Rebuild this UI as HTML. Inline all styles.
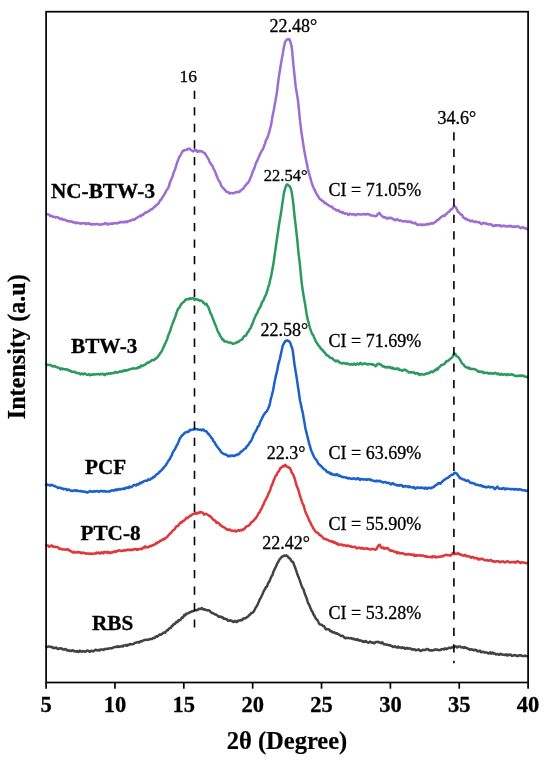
<!DOCTYPE html>
<html><head><meta charset="utf-8"><style>
html,body{margin:0;padding:0;background:#fff;}
body{width:550px;height:760px;overflow:hidden;}
svg{display:block;}
text{font-family:'Liberation Serif', 'Times New Roman', serif;fill:#000;stroke:#000;stroke-width:0.3px;}
.b{stroke-width:0.2px;}
.b{font-weight:bold;stroke-width:0.2px;}
</style></head><body>
<svg width="550" height="760" viewBox="0 0 550 760">
<rect width="550" height="760" fill="#fff"/>
<g fill="none" stroke-width="2.5" stroke-linejoin="round" stroke-linecap="round">
<path d="M46.2,214.0 46.8,214.3 47.4,214.3 48.0,214.3 48.6,214.6 49.2,214.8 49.8,215.5 50.4,216.1 51.0,215.8 51.6,215.9 52.2,216.5 52.8,216.8 53.4,216.8 54.0,216.7 54.6,217.2 55.2,217.5 55.8,217.1 56.4,217.2 57.0,217.1 57.6,217.3 58.2,217.5 58.8,218.1 59.4,218.3 60.0,218.9 60.6,219.2 61.2,218.9 61.8,218.5 62.4,219.1 63.0,219.7 63.6,219.8 64.2,219.5 64.8,219.8 65.4,219.9 66.0,220.3 66.6,220.9 67.2,220.7 67.8,221.0 68.4,221.4 69.0,221.1 69.6,221.3 70.2,221.6 70.8,221.5 71.4,221.3 72.0,221.9 72.6,222.3 73.2,221.8 73.8,222.4 74.4,222.4 75.0,222.5 75.6,223.3 76.2,223.0 76.8,222.4 77.4,222.7 78.0,223.1 78.6,223.0 79.2,223.2 79.8,223.2 80.4,223.6 81.0,223.7 81.6,223.2 82.2,223.3 82.8,223.3 83.4,223.3 84.0,223.0 84.6,223.2 85.2,223.6 85.8,224.1 86.4,224.1 87.0,223.3 87.6,223.4 88.2,223.7 88.8,223.2 89.4,223.5 90.0,224.0 90.6,224.5 91.2,224.4 91.8,224.0 92.4,223.9 93.0,224.2 93.6,224.6 94.2,224.2 94.8,224.1 95.4,224.3 96.0,224.2 96.6,224.1 97.2,223.9 97.8,224.1 98.4,224.3 99.0,224.7 99.6,224.7 100.2,224.4 100.8,224.5 101.4,224.3 102.0,224.6 102.6,224.4 103.2,224.2 103.8,223.8 104.4,223.9 105.0,223.3 105.6,223.1 106.2,223.5 106.8,223.6 107.4,224.2 108.0,224.6 108.6,223.8 109.2,223.5 109.8,223.8 110.4,223.9 111.0,223.7 111.6,223.6 112.2,223.9 112.8,223.7 113.4,223.2 114.0,223.3 114.6,223.3 115.2,223.0 115.8,223.1 116.4,223.0 117.0,223.4 117.6,223.3 118.2,223.0 118.8,222.7 119.4,222.5 120.0,221.9 120.6,222.1 121.2,222.3 121.8,221.9 122.4,222.3 123.0,221.9 123.6,222.2 124.2,222.0 124.8,222.2 125.4,221.9 126.0,221.4 126.6,222.1 127.2,222.2 127.8,221.5 128.4,221.1 129.0,220.9 129.6,220.7 130.2,221.0 130.8,220.6 131.4,220.3 132.0,219.9 132.6,219.6 133.2,219.4 133.8,219.8 134.4,219.5 135.0,219.3 135.6,218.7 136.2,218.1 136.8,217.8 137.4,217.5 138.0,217.3 138.6,216.9 139.2,216.4 139.8,215.8 140.4,215.8 141.0,216.2 141.6,215.2 142.2,214.6 142.8,214.9 143.4,214.7 144.0,213.6 144.6,213.3 145.2,212.8 145.8,212.3 146.4,212.6 147.0,212.3 147.6,211.8 148.2,211.3 148.8,211.2 149.4,210.7 150.0,210.2 150.6,209.5 151.2,209.2 151.8,209.4 152.4,208.7 153.0,208.3 153.6,207.7 154.2,207.0 154.8,206.6 155.4,206.3 156.0,205.6 156.6,204.9 157.2,204.5 157.8,204.2 158.4,203.5 159.0,202.5 159.6,201.2 160.2,200.2 160.8,200.1 161.4,199.2 162.0,197.9 162.6,197.1 163.2,196.3 163.8,195.4 164.4,194.3 165.0,193.1 165.6,192.3 166.2,190.7 166.8,190.0 167.4,189.1 168.0,188.1 168.6,187.1 169.2,185.4 169.8,182.9 170.4,181.1 171.0,180.2 171.6,178.5 172.2,177.2 172.8,175.8 173.4,173.4 174.0,171.6 174.6,170.6 175.2,168.9 175.8,166.9 176.4,165.0 177.0,163.0 177.6,161.2 178.2,160.0 178.8,158.2 179.4,156.7 180.0,156.1 180.6,155.1 181.2,154.0 181.8,152.7 182.4,151.7 183.0,150.9 183.6,150.5 184.2,150.4 184.8,150.0 185.4,150.0 186.0,150.1 186.6,150.0 187.2,149.1 187.8,149.2 188.4,149.1 189.0,148.8 189.6,148.6 190.2,149.2 190.8,150.0 191.4,150.3 192.0,150.6 192.6,150.9 193.2,151.4 193.8,151.0 194.4,150.4 195.0,150.6 195.6,150.2 196.2,150.0 196.8,151.1 197.4,151.9 198.0,151.5 198.6,150.8 199.2,150.9 199.8,151.5 200.4,151.3 201.0,151.1 201.6,151.2 202.2,151.5 202.8,152.1 203.4,152.6 204.0,152.8 204.6,153.0 205.2,154.0 205.8,154.8 206.4,156.0 207.0,156.5 207.6,157.6 208.2,158.6 208.8,159.6 209.4,161.5 210.0,162.6 210.6,163.2 211.2,164.4 211.8,165.2 212.4,165.6 213.0,167.4 213.6,168.8 214.2,169.9 214.8,170.9 215.4,172.4 216.0,174.1 216.6,175.9 217.2,177.1 217.8,178.4 218.4,180.0 219.0,180.7 219.6,181.6 220.2,182.7 220.8,184.8 221.4,186.0 222.0,186.8 222.6,187.5 223.2,188.1 223.8,188.8 224.4,189.3 225.0,189.9 225.6,190.7 226.2,191.7 226.8,192.0 227.4,192.0 228.0,192.0 228.6,192.4 229.2,193.3 229.8,193.4 230.4,193.2 231.0,193.0 231.6,192.9 232.2,193.2 232.8,193.5 233.4,193.1 234.0,192.9 234.6,192.8 235.2,192.6 235.8,192.1 236.4,192.1 237.0,192.1 237.6,192.3 238.2,191.8 238.8,192.0 239.4,192.0 240.0,191.1 240.6,190.5 241.2,190.3 241.8,189.7 242.4,188.9 243.0,188.8 243.6,188.5 244.2,187.2 244.8,186.2 245.4,185.5 246.0,185.1 246.6,184.0 247.2,183.4 247.8,183.2 248.4,182.0 249.0,181.2 249.6,180.1 250.2,178.2 250.8,176.9 251.4,175.8 252.0,173.8 252.6,172.0 253.2,170.4 253.8,169.3 254.4,168.2 255.0,166.2 255.6,164.0 256.2,162.5 256.8,161.4 257.4,160.3 258.0,158.9 258.6,157.6 259.2,156.2 259.8,154.6 260.4,153.4 261.0,152.3 261.6,151.0 262.2,150.2 262.8,149.4 263.4,148.0 264.0,146.3 264.6,144.5 265.2,143.2 265.8,140.7 266.4,139.1 267.0,138.6 267.6,137.4 268.2,135.6 268.8,133.4 269.4,131.4 270.0,129.0 270.6,126.9 271.2,124.4 271.8,120.6 272.4,116.9 273.0,113.8 273.6,111.1 274.2,107.9 274.8,104.4 275.4,101.2 276.0,97.4 276.6,94.2 277.2,90.2 277.8,85.2 278.4,80.0 279.0,76.1 279.6,72.2 280.2,68.5 280.8,64.9 281.4,61.2 282.0,57.9 282.6,55.0 283.2,51.1 283.8,47.7 284.4,45.0 285.0,42.4 285.6,41.0 286.2,40.3 286.8,39.7 287.4,39.3 288.0,39.5 288.6,39.3 289.2,39.2 289.8,40.2 290.4,42.0 291.0,44.1 291.6,46.6 292.2,51.5 292.8,58.1 293.4,64.8 294.0,70.4 294.6,76.1 295.2,81.9 295.8,87.4 296.4,90.9 297.0,94.4 297.6,97.8 298.2,102.3 298.8,108.0 299.4,114.7 300.0,120.7 300.6,125.3 301.2,130.5 301.8,134.8 302.4,138.4 303.0,142.5 303.6,146.4 304.2,150.1 304.8,153.4 305.4,156.5 306.0,159.7 306.6,162.5 307.2,165.3 307.8,168.5 308.4,171.2 309.0,173.0 309.6,175.4 310.2,177.3 310.8,179.3 311.4,181.8 312.0,183.6 312.6,185.6 313.2,186.7 313.8,188.2 314.4,189.4 315.0,190.6 315.6,192.1 316.2,193.2 316.8,194.4 317.4,195.2 318.0,195.9 318.6,197.1 319.2,198.2 319.8,199.1 320.4,199.3 321.0,199.8 321.6,200.1 322.2,201.1 322.8,201.1 323.4,201.3 324.0,202.5 324.6,203.2 325.2,202.8 325.8,203.1 326.4,203.7 327.0,204.1 327.6,204.8 328.2,204.9 328.8,205.3 329.4,206.0 330.0,206.1 330.6,206.6 331.2,206.5 331.8,206.5 332.4,207.1 333.0,208.4 333.6,208.5 334.2,208.8 334.8,209.1 335.4,209.5 336.0,210.0 336.6,210.6 337.2,210.1 337.8,209.9 338.4,210.3 339.0,210.8 339.6,211.8 340.2,212.1 340.8,211.7 341.4,211.7 342.0,212.5 342.6,213.0 343.2,212.3 343.8,213.0 344.4,213.3 345.0,213.8 345.6,213.5 346.2,213.6 346.8,213.5 347.4,213.9 348.0,214.9 348.6,214.9 349.2,214.3 349.8,213.9 350.4,213.7 351.0,214.1 351.6,214.4 352.2,214.5 352.8,214.3 353.4,214.1 354.0,214.3 354.6,214.6 355.2,215.2 355.8,215.3 356.4,214.6 357.0,214.2 357.6,214.3 358.2,214.2 358.8,214.2 359.4,214.3 360.0,214.2 360.6,214.6 361.2,214.6 361.8,214.6 362.4,214.4 363.0,214.1 363.6,214.0 364.2,214.2 364.8,214.3 365.4,214.5 366.0,214.4 366.6,214.0 367.2,214.2 367.8,214.1 368.4,214.3 369.0,214.4 369.6,214.3 370.2,215.0 370.8,215.4 371.4,215.5 372.0,215.6 372.6,215.6 373.2,215.7 373.8,215.9 374.4,216.1 375.0,216.2 375.6,216.0 376.2,216.1 376.8,215.5 377.4,214.6 378.0,213.9 378.6,213.4 379.2,212.8 379.8,213.6 380.4,214.4 381.0,215.1 381.6,215.8 382.2,216.2 382.8,216.6 383.4,217.2 384.0,217.4 384.6,217.3 385.2,217.1 385.8,217.8 386.4,218.4 387.0,218.5 387.6,218.1 388.2,217.7 388.8,218.4 389.4,218.1 390.0,217.6 390.6,218.2 391.2,218.0 391.8,218.0 392.4,218.6 393.0,219.3 393.6,219.2 394.2,219.5 394.8,220.2 395.4,220.2 396.0,219.7 396.6,219.5 397.2,219.3 397.8,219.6 398.4,220.2 399.0,220.4 399.6,220.5 400.2,220.7 400.8,220.4 401.4,220.6 402.0,221.1 402.6,221.3 403.2,221.5 403.8,221.4 404.4,221.2 405.0,221.3 405.6,221.0 406.2,221.0 406.8,221.7 407.4,221.9 408.0,221.8 408.6,221.4 409.2,221.8 409.8,221.9 410.4,221.8 411.0,221.6 411.6,222.4 412.2,223.1 412.8,223.1 413.4,222.9 414.0,223.2 414.6,223.3 415.2,222.6 415.8,223.4 416.4,224.1 417.0,224.5 417.6,224.9 418.2,224.9 418.8,224.6 419.4,224.7 420.0,224.7 420.6,224.4 421.2,224.5 421.8,225.1 422.4,225.3 423.0,224.6 423.6,224.4 424.2,224.7 424.8,224.9 425.4,224.7 426.0,224.7 426.6,224.1 427.2,224.0 427.8,224.2 428.4,224.5 429.0,224.4 429.6,223.5 430.2,223.5 430.8,223.8 431.4,223.4 432.0,223.1 432.6,223.6 433.2,223.5 433.8,222.9 434.4,222.4 435.0,222.3 435.6,221.8 436.2,221.5 436.8,220.5 437.4,220.0 438.0,219.8 438.6,219.3 439.2,219.1 439.8,218.4 440.4,217.5 441.0,217.2 441.6,216.8 442.2,216.6 442.8,215.8 443.4,215.5 444.0,215.8 444.6,215.9 445.2,215.3 445.8,214.2 446.4,213.8 447.0,213.7 447.6,212.7 448.2,211.9 448.8,211.8 449.4,211.5 450.0,210.5 450.6,209.6 451.2,209.3 451.8,209.4 452.4,208.4 453.0,207.6 453.6,207.0 454.2,206.6 454.8,206.5 455.4,207.1 456.0,207.7 456.6,208.7 457.2,210.0 457.8,211.5 458.4,212.1 459.0,212.4 459.6,213.1 460.2,213.9 460.8,214.5 461.4,214.4 462.0,214.9 462.6,216.1 463.2,217.5 463.8,217.7 464.4,217.7 465.0,218.4 465.6,219.1 466.2,218.7 466.8,218.9 467.4,219.7 468.0,219.9 468.6,220.0 469.2,220.1 469.8,221.1 470.4,221.3 471.0,221.1 471.6,220.9 472.2,220.5 472.8,221.2 473.4,221.5 474.0,221.8 474.6,222.0 475.2,221.7 475.8,221.5 476.4,222.0 477.0,222.1 477.6,222.2 478.2,222.3 478.8,222.3 479.4,222.2 480.0,223.2 480.6,223.5 481.2,223.9 481.8,224.2 482.4,223.5 483.0,222.8 483.6,222.9 484.2,223.1 484.8,223.5 485.4,223.6 486.0,223.3 486.6,223.8 487.2,223.7 487.8,224.2 488.4,224.3 489.0,224.3 489.6,224.4 490.2,224.4 490.8,224.3 491.4,224.2 492.0,224.9 492.6,225.9 493.2,226.2 493.8,225.9 494.4,225.5 495.0,225.2 495.6,225.7 496.2,225.5 496.8,225.3 497.4,225.3 498.0,225.4 498.6,225.4 499.2,225.3 499.8,225.2 500.4,225.7 501.0,226.5 501.6,225.9 502.2,225.7 502.8,226.1 503.4,226.0 504.0,225.5 504.6,225.8 505.2,226.3 505.8,226.2 506.4,226.3 507.0,226.6 507.6,226.1 508.2,226.0 508.8,226.2 509.4,226.5 510.0,225.7 510.6,225.8 511.2,226.2 511.8,226.6 512.4,226.9 513.0,226.9 513.6,226.3 514.2,226.7 514.8,226.6 515.4,226.6 516.0,226.9 516.6,226.4 517.2,226.1 517.8,226.5 518.4,226.5 519.0,226.9 519.6,227.5 520.2,227.8 520.8,228.2 521.4,227.6 522.0,227.1 522.6,227.4 523.2,227.5 523.8,227.7 524.4,228.2 525.0,228.0 525.6,227.9 526.2,228.8 526.8,229.0 527.4,229.2 527.5,229.2" stroke="#9d6dd2"/>
<path d="M46.2,364.2 46.8,364.4 47.4,364.9 48.0,365.0 48.6,365.0 49.2,365.0 49.8,364.7 50.4,365.1 51.0,365.5 51.6,365.7 52.2,365.7 52.8,366.6 53.4,366.4 54.0,365.9 54.6,365.9 55.2,366.6 55.8,366.9 56.4,367.0 57.0,367.3 57.6,367.4 58.2,367.8 58.8,367.8 59.4,368.1 60.0,369.0 60.6,369.4 61.2,368.5 61.8,368.4 62.4,368.7 63.0,369.2 63.6,368.9 64.2,369.1 64.8,369.4 65.4,369.3 66.0,369.4 66.6,369.6 67.2,369.3 67.8,369.6 68.4,370.3 69.0,370.8 69.6,370.7 70.2,370.4 70.8,371.0 71.4,371.8 72.0,371.9 72.6,371.7 73.2,371.7 73.8,372.1 74.4,371.9 75.0,371.8 75.6,372.2 76.2,373.1 76.8,373.1 77.4,373.2 78.0,373.0 78.6,373.3 79.2,373.1 79.8,373.5 80.4,374.4 81.0,374.1 81.6,373.6 82.2,373.7 82.8,374.1 83.4,374.4 84.0,373.8 84.6,373.4 85.2,373.9 85.8,374.2 86.4,374.5 87.0,374.8 87.6,374.7 88.2,374.5 88.8,374.1 89.4,374.7 90.0,375.3 90.6,374.9 91.2,374.5 91.8,374.6 92.4,374.9 93.0,374.2 93.6,374.2 94.2,374.5 94.8,374.6 95.4,374.3 96.0,374.3 96.6,374.3 97.2,374.3 97.8,374.1 98.4,373.9 99.0,374.3 99.6,374.5 100.2,374.0 100.8,374.1 101.4,374.3 102.0,373.9 102.6,373.9 103.2,373.8 103.8,374.6 104.4,375.2 105.0,374.9 105.6,374.1 106.2,374.0 106.8,373.8 107.4,373.9 108.0,374.0 108.6,373.3 109.2,373.6 109.8,373.6 110.4,373.8 111.0,373.4 111.6,373.0 112.2,373.2 112.8,373.3 113.4,373.0 114.0,372.9 114.6,372.3 115.2,371.9 115.8,372.6 116.4,372.7 117.0,372.4 117.6,372.3 118.2,372.4 118.8,371.8 119.4,371.5 120.0,371.7 120.6,371.8 121.2,371.2 121.8,371.5 122.4,371.0 123.0,370.7 123.6,371.2 124.2,370.7 124.8,370.1 125.4,370.3 126.0,370.8 126.6,370.7 127.2,370.1 127.8,370.1 128.4,370.0 129.0,369.5 129.6,369.5 130.2,369.2 130.8,368.9 131.4,368.7 132.0,368.8 132.6,368.6 133.2,368.3 133.8,368.3 134.4,368.6 135.0,368.4 135.6,368.4 136.2,368.4 136.8,368.2 137.4,368.2 138.0,367.3 138.6,367.2 139.2,367.1 139.8,367.5 140.4,367.1 141.0,365.6 141.6,365.5 142.2,365.9 142.8,365.9 143.4,365.5 144.0,365.0 144.6,364.8 145.2,364.6 145.8,364.1 146.4,363.7 147.0,362.7 147.6,362.9 148.2,362.5 148.8,362.6 149.4,362.0 150.0,361.5 150.6,361.4 151.2,360.8 151.8,360.3 152.4,359.9 153.0,360.1 153.6,360.2 154.2,359.9 154.8,359.3 155.4,359.1 156.0,358.4 156.6,357.8 157.2,357.5 157.8,356.9 158.4,355.8 159.0,354.9 159.6,354.2 160.2,353.3 160.8,352.4 161.4,351.8 162.0,350.6 162.6,349.3 163.2,347.8 163.8,346.7 164.4,345.3 165.0,343.8 165.6,342.9 166.2,341.3 166.8,340.1 167.4,338.3 168.0,336.1 168.6,334.6 169.2,333.3 169.8,331.7 170.4,330.0 171.0,328.1 171.6,326.1 172.2,324.6 172.8,322.8 173.4,321.7 174.0,320.0 174.6,318.3 175.2,316.9 175.8,315.3 176.4,313.1 177.0,311.4 177.6,310.0 178.2,308.6 178.8,308.1 179.4,307.7 180.0,306.2 180.6,305.3 181.2,304.1 181.8,303.6 182.4,302.9 183.0,302.3 183.6,302.0 184.2,301.7 184.8,300.7 185.4,299.8 186.0,299.3 186.6,299.4 187.2,299.3 187.8,299.3 188.4,299.3 189.0,299.2 189.6,298.2 190.2,298.5 190.8,298.9 191.4,298.5 192.0,298.2 192.6,298.3 193.2,298.2 193.8,299.0 194.4,299.9 195.0,299.6 195.6,298.9 196.2,298.9 196.8,299.4 197.4,299.9 198.0,299.6 198.6,299.8 199.2,300.5 199.8,300.8 200.4,300.5 201.0,300.5 201.6,300.8 202.2,301.3 202.8,301.7 203.4,302.8 204.0,303.0 204.6,303.6 205.2,304.4 205.8,304.2 206.4,303.9 207.0,305.0 207.6,306.2 208.2,307.0 208.8,308.2 209.4,310.0 210.0,311.6 210.6,313.7 211.2,314.2 211.8,315.7 212.4,317.5 213.0,319.0 213.6,320.5 214.2,322.0 214.8,323.5 215.4,325.2 216.0,326.2 216.6,328.1 217.2,329.6 217.8,331.2 218.4,332.5 219.0,333.3 219.6,334.5 220.2,336.0 220.8,336.8 221.4,337.5 222.0,339.1 222.6,339.8 223.2,339.3 223.8,340.3 224.4,341.5 225.0,341.5 225.6,341.4 226.2,341.4 226.8,341.6 227.4,341.9 228.0,342.2 228.6,342.6 229.2,342.6 229.8,342.5 230.4,342.5 231.0,342.9 231.6,342.9 232.2,343.3 232.8,343.8 233.4,343.7 234.0,343.6 234.6,343.4 235.2,343.1 235.8,342.7 236.4,342.5 237.0,342.4 237.6,341.9 238.2,342.1 238.8,341.5 239.4,340.8 240.0,340.5 240.6,340.1 241.2,339.9 241.8,339.4 242.4,339.2 243.0,338.0 243.6,336.8 244.2,336.4 244.8,335.8 245.4,335.7 246.0,335.5 246.6,334.3 247.2,332.7 247.8,331.9 248.4,331.7 249.0,330.5 249.6,329.2 250.2,328.6 250.8,327.9 251.4,326.3 252.0,324.5 252.6,323.2 253.2,321.9 253.8,320.0 254.4,318.5 255.0,317.3 255.6,315.8 256.2,314.7 256.8,313.8 257.4,313.0 258.0,311.0 258.6,309.7 259.2,308.7 259.8,307.8 260.4,306.8 261.0,305.1 261.6,303.5 262.2,302.0 262.8,301.1 263.4,300.4 264.0,299.0 264.6,297.3 265.2,296.1 265.8,295.0 266.4,293.5 267.0,291.6 267.6,289.6 268.2,287.2 268.8,285.5 269.4,283.8 270.0,280.6 270.6,278.3 271.2,275.9 271.8,272.6 272.4,269.3 273.0,266.1 273.6,262.5 274.2,258.4 274.8,253.8 275.4,250.0 276.0,245.7 276.6,241.4 277.2,237.3 277.8,233.2 278.4,229.0 279.0,224.7 279.6,221.3 280.2,217.8 280.8,214.2 281.4,210.4 282.0,206.1 282.6,201.9 283.2,197.8 283.8,193.6 284.4,191.1 285.0,189.1 285.6,187.2 286.2,185.4 286.8,184.5 287.4,184.5 288.0,185.0 288.6,185.5 289.2,185.8 289.8,186.6 290.4,187.7 291.0,189.4 291.6,191.7 292.2,195.4 292.8,199.6 293.4,204.6 294.0,210.6 294.6,216.6 295.2,221.5 295.8,226.6 296.4,232.2 297.0,237.4 297.6,243.2 298.2,250.1 298.8,255.7 299.4,259.9 300.0,265.5 300.6,272.0 301.2,278.4 301.8,283.7 302.4,288.2 303.0,292.1 303.6,295.8 304.2,299.4 304.8,302.6 305.4,305.8 306.0,310.0 306.6,313.9 307.2,317.0 307.8,319.9 308.4,321.9 309.0,324.1 309.6,326.8 310.2,328.7 310.8,330.3 311.4,332.1 312.0,333.7 312.6,334.5 313.2,335.0 313.8,336.7 314.4,338.1 315.0,339.3 315.6,340.9 316.2,342.2 316.8,342.6 317.4,343.5 318.0,345.2 318.6,345.4 319.2,345.9 319.8,347.1 320.4,348.0 321.0,348.5 321.6,349.5 322.2,349.8 322.8,350.3 323.4,351.4 324.0,352.1 324.6,352.4 325.2,353.1 325.8,354.0 326.4,355.1 327.0,354.9 327.6,355.6 328.2,355.8 328.8,356.2 329.4,357.0 330.0,357.6 330.6,358.1 331.2,358.1 331.8,358.0 332.4,358.4 333.0,359.2 333.6,359.8 334.2,360.3 334.8,360.5 335.4,361.0 336.0,361.4 336.6,361.0 337.2,360.6 337.8,360.7 338.4,361.3 339.0,362.2 339.6,362.2 340.2,362.7 340.8,363.0 341.4,363.4 342.0,363.3 342.6,363.0 343.2,363.0 343.8,363.2 344.4,363.3 345.0,363.2 345.6,363.6 346.2,364.0 346.8,363.3 347.4,363.6 348.0,363.7 348.6,364.1 349.2,364.4 349.8,364.4 350.4,364.4 351.0,364.0 351.6,364.5 352.2,364.4 352.8,364.7 353.4,364.3 354.0,363.5 354.6,363.9 355.2,364.5 355.8,364.9 356.4,364.4 357.0,363.9 357.6,363.5 358.2,364.2 358.8,364.4 359.4,363.6 360.0,363.1 360.6,362.8 361.2,363.8 361.8,364.5 362.4,364.1 363.0,364.0 363.6,363.7 364.2,363.4 364.8,363.8 365.4,363.4 366.0,363.6 366.6,364.1 367.2,364.4 367.8,364.4 368.4,364.3 369.0,363.9 369.6,363.9 370.2,364.3 370.8,364.3 371.4,364.1 372.0,364.4 372.6,364.7 373.2,364.5 373.8,364.7 374.4,365.0 375.0,365.7 375.6,366.2 376.2,366.1 376.8,364.6 377.4,364.1 378.0,364.1 378.6,363.6 379.2,363.8 379.8,364.6 380.4,364.5 381.0,364.5 381.6,365.1 382.2,366.2 382.8,366.4 383.4,366.0 384.0,366.3 384.6,367.0 385.2,367.2 385.8,367.0 386.4,367.4 387.0,367.4 387.6,366.8 388.2,367.2 388.8,367.6 389.4,367.2 390.0,366.8 390.6,367.5 391.2,368.3 391.8,368.3 392.4,367.7 393.0,368.6 393.6,368.2 394.2,368.7 394.8,369.1 395.4,369.0 396.0,368.7 396.6,368.4 397.2,368.9 397.8,368.5 398.4,368.4 399.0,370.0 399.6,370.1 400.2,370.1 400.8,369.7 401.4,370.3 402.0,370.8 402.6,370.7 403.2,370.2 403.8,369.8 404.4,369.9 405.0,369.6 405.6,369.9 406.2,370.6 406.8,370.7 407.4,371.1 408.0,371.6 408.6,372.4 409.2,372.4 409.8,372.2 410.4,372.4 411.0,372.0 411.6,372.2 412.2,372.6 412.8,372.3 413.4,372.4 414.0,372.4 414.6,373.1 415.2,373.7 415.8,373.3 416.4,373.4 417.0,373.2 417.6,373.1 418.2,373.4 418.8,374.6 419.4,375.1 420.0,374.5 420.6,374.1 421.2,374.3 421.8,374.3 422.4,374.6 423.0,374.6 423.6,374.6 424.2,374.6 424.8,374.2 425.4,374.0 426.0,373.6 426.6,373.7 427.2,373.5 427.8,373.5 428.4,373.1 429.0,373.2 429.6,372.9 430.2,372.0 430.8,371.7 431.4,371.6 432.0,372.1 432.6,372.3 433.2,371.6 433.8,371.0 434.4,370.9 435.0,370.1 435.6,370.2 436.2,369.2 436.8,368.5 437.4,369.6 438.0,369.1 438.6,367.7 439.2,367.2 439.8,366.7 440.4,366.1 441.0,365.1 441.6,364.9 442.2,364.9 442.8,364.7 443.4,364.4 444.0,364.0 444.6,363.9 445.2,362.8 445.8,362.1 446.4,361.1 447.0,361.0 447.6,361.3 448.2,360.6 448.8,360.3 449.4,359.8 450.0,359.0 450.6,358.6 451.2,358.1 451.8,357.6 452.4,357.0 453.0,355.7 453.6,354.1 454.2,353.3 454.8,353.7 455.4,354.1 456.0,355.2 456.6,356.4 457.2,356.6 457.8,356.7 458.4,357.3 459.0,358.0 459.6,358.9 460.2,359.9 460.8,361.0 461.4,362.2 462.0,363.4 462.6,363.9 463.2,364.3 463.8,364.8 464.4,366.0 465.0,366.4 465.6,367.0 466.2,367.2 466.8,367.4 467.4,367.2 468.0,367.9 468.6,368.5 469.2,367.8 469.8,368.5 470.4,369.0 471.0,368.8 471.6,369.1 472.2,369.2 472.8,368.9 473.4,369.1 474.0,369.0 474.6,369.1 475.2,369.4 475.8,369.9 476.4,370.3 477.0,370.5 477.6,370.5 478.2,371.6 478.8,371.9 479.4,371.7 480.0,371.4 480.6,371.6 481.2,372.0 481.8,371.9 482.4,371.6 483.0,372.6 483.6,373.2 484.2,372.2 484.8,372.7 485.4,372.9 486.0,372.9 486.6,373.1 487.2,372.6 487.8,373.1 488.4,373.6 489.0,373.2 489.6,373.0 490.2,373.2 490.8,373.4 491.4,373.8 492.0,373.4 492.6,373.6 493.2,373.3 493.8,373.7 494.4,373.4 495.0,372.7 495.6,373.3 496.2,373.3 496.8,373.7 497.4,374.2 498.0,373.6 498.6,373.6 499.2,374.4 499.8,374.4 500.4,374.7 501.0,374.3 501.6,373.8 502.2,374.2 502.8,374.8 503.4,374.7 504.0,374.4 504.6,374.3 505.2,374.3 505.8,374.4 506.4,375.1 507.0,374.6 507.6,374.1 508.2,374.4 508.8,374.9 509.4,375.0 510.0,374.7 510.6,374.5 511.2,374.6 511.8,374.1 512.4,374.4 513.0,375.1 513.6,375.0 514.2,375.4 514.8,375.8 515.4,375.7 516.0,375.7 516.6,376.3 517.2,376.0 517.8,375.6 518.4,375.9 519.0,375.9 519.6,375.6 520.2,375.8 520.8,375.7 521.4,375.3 522.0,375.8 522.6,376.1 523.2,376.0 523.8,375.8 524.4,376.3 525.0,376.7 525.6,376.8 526.2,376.7 526.8,377.1 527.4,376.9 527.5,377.1" stroke="#2b9a5f"/>
<path d="M46.2,484.8 46.8,484.4 47.4,484.5 48.0,485.1 48.6,484.9 49.2,485.0 49.8,485.4 50.4,485.5 51.0,484.7 51.6,485.0 52.2,485.2 52.8,485.3 53.4,485.6 54.0,485.9 54.6,486.3 55.2,486.3 55.8,486.7 56.4,487.0 57.0,486.9 57.6,487.4 58.2,488.1 58.8,487.8 59.4,487.6 60.0,487.7 60.6,487.8 61.2,488.4 61.8,488.7 62.4,488.4 63.0,488.7 63.6,489.3 64.2,489.0 64.8,489.1 65.4,488.9 66.0,488.9 66.6,489.5 67.2,490.3 67.8,489.8 68.4,489.5 69.0,489.6 69.6,490.0 70.2,490.3 70.8,490.6 71.4,491.0 72.0,490.8 72.6,491.0 73.2,490.8 73.8,490.6 74.4,490.2 75.0,490.5 75.6,490.7 76.2,490.5 76.8,490.2 77.4,491.0 78.0,491.0 78.6,490.9 79.2,491.0 79.8,491.2 80.4,491.3 81.0,490.9 81.6,491.1 82.2,491.6 82.8,491.7 83.4,491.6 84.0,491.5 84.6,491.5 85.2,491.9 85.8,492.2 86.4,491.9 87.0,492.5 87.6,492.4 88.2,492.0 88.8,492.0 89.4,491.3 90.0,491.0 90.6,491.2 91.2,491.6 91.8,491.7 92.4,491.7 93.0,491.6 93.6,491.1 94.2,491.6 94.8,491.3 95.4,491.3 96.0,491.4 96.6,491.1 97.2,490.9 97.8,491.1 98.4,491.6 99.0,491.9 99.6,491.7 100.2,491.1 100.8,491.0 101.4,491.1 102.0,491.2 102.6,490.9 103.2,491.5 103.8,491.2 104.4,491.0 105.0,491.4 105.6,491.7 106.2,491.5 106.8,491.6 107.4,491.4 108.0,491.6 108.6,491.6 109.2,491.2 109.8,491.4 110.4,491.1 111.0,490.7 111.6,490.3 112.2,490.5 112.8,490.6 113.4,490.2 114.0,490.5 114.6,490.6 115.2,490.1 115.8,489.4 116.4,489.8 117.0,490.1 117.6,489.7 118.2,489.4 118.8,488.9 119.4,489.5 120.0,489.4 120.6,489.4 121.2,488.8 121.8,489.1 122.4,489.1 123.0,489.0 123.6,488.4 124.2,488.5 124.8,489.0 125.4,488.1 126.0,487.7 126.6,487.6 127.2,487.5 127.8,488.1 128.4,488.1 129.0,487.0 129.6,486.5 130.2,487.2 130.8,487.3 131.4,487.0 132.0,486.7 132.6,485.9 133.2,485.5 133.8,485.0 134.4,484.9 135.0,485.3 135.6,485.1 136.2,485.5 136.8,484.7 137.4,484.1 138.0,484.4 138.6,484.6 139.2,483.8 139.8,482.9 140.4,483.2 141.0,483.3 141.6,482.4 142.2,482.1 142.8,482.3 143.4,481.8 144.0,481.1 144.6,480.9 145.2,480.8 145.8,480.8 146.4,480.8 147.0,480.8 147.6,480.3 148.2,479.4 148.8,479.7 149.4,479.8 150.0,479.6 150.6,479.3 151.2,478.5 151.8,478.2 152.4,478.3 153.0,477.3 153.6,476.7 154.2,477.1 154.8,476.5 155.4,475.8 156.0,475.0 156.6,474.4 157.2,474.0 157.8,473.8 158.4,473.3 159.0,472.2 159.6,472.2 160.2,471.2 160.8,470.6 161.4,470.5 162.0,469.6 162.6,468.6 163.2,468.6 163.8,467.4 164.4,466.7 165.0,466.2 165.6,465.6 166.2,464.4 166.8,463.7 167.4,462.5 168.0,461.8 168.6,460.5 169.2,459.6 169.8,459.3 170.4,457.8 171.0,456.5 171.6,455.8 172.2,454.0 172.8,452.4 173.4,451.5 174.0,450.2 174.6,449.8 175.2,448.9 175.8,447.3 176.4,446.1 177.0,445.3 177.6,444.0 178.2,442.5 178.8,441.3 179.4,439.3 180.0,438.3 180.6,437.4 181.2,436.5 181.8,435.9 182.4,435.0 183.0,434.8 183.6,434.2 184.2,433.4 184.8,432.6 185.4,432.4 186.0,432.4 186.6,431.9 187.2,431.8 187.8,432.0 188.4,431.8 189.0,431.4 189.6,430.3 190.2,429.8 190.8,430.1 191.4,429.9 192.0,429.8 192.6,429.5 193.2,429.6 193.8,429.5 194.4,429.3 195.0,429.2 195.6,429.1 196.2,429.1 196.8,429.2 197.4,429.4 198.0,429.3 198.6,429.8 199.2,429.7 199.8,429.8 200.4,429.6 201.0,429.8 201.6,430.4 202.2,429.8 202.8,429.4 203.4,429.6 204.0,430.2 204.6,431.1 205.2,431.0 205.8,431.2 206.4,431.2 207.0,432.1 207.6,433.1 208.2,433.9 208.8,434.0 209.4,435.0 210.0,435.8 210.6,436.4 211.2,437.6 211.8,438.3 212.4,438.8 213.0,440.4 213.6,441.5 214.2,441.8 214.8,442.5 215.4,444.1 216.0,444.9 216.6,445.9 217.2,446.8 217.8,447.2 218.4,448.3 219.0,449.0 219.6,449.8 220.2,450.6 220.8,451.4 221.4,452.4 222.0,452.8 222.6,453.1 223.2,453.6 223.8,454.1 224.4,454.1 225.0,454.3 225.6,454.7 226.2,454.8 226.8,455.0 227.4,455.3 228.0,456.2 228.6,456.2 229.2,455.7 229.8,455.7 230.4,456.2 231.0,455.8 231.6,455.4 232.2,455.5 232.8,455.7 233.4,455.9 234.0,455.8 234.6,456.0 235.2,455.3 235.8,455.1 236.4,454.8 237.0,455.1 237.6,454.4 238.2,454.1 238.8,454.2 239.4,453.8 240.0,452.7 240.6,452.1 241.2,451.5 241.8,451.4 242.4,451.0 243.0,450.3 243.6,449.6 244.2,449.1 244.8,448.6 245.4,448.6 246.0,448.0 246.6,446.5 247.2,446.0 247.8,445.5 248.4,444.8 249.0,443.7 249.6,442.8 250.2,441.9 250.8,441.3 251.4,440.3 252.0,439.0 252.6,437.7 253.2,435.9 253.8,434.2 254.4,433.5 255.0,432.4 255.6,431.2 256.2,430.5 256.8,429.4 257.4,427.5 258.0,426.5 258.6,426.3 259.2,425.1 259.8,423.1 260.4,421.5 261.0,420.4 261.6,419.2 262.2,417.7 262.8,416.8 263.4,415.4 264.0,414.4 264.6,413.9 265.2,412.8 265.8,412.1 266.4,411.7 267.0,410.9 267.6,409.7 268.2,408.5 268.8,407.1 269.4,405.8 270.0,403.1 270.6,400.0 271.2,397.7 271.8,395.6 272.4,393.0 273.0,390.7 273.6,387.6 274.2,384.1 274.8,381.1 275.4,377.9 276.0,375.4 276.6,372.9 277.2,370.7 277.8,367.2 278.4,363.9 279.0,362.0 279.6,360.0 280.2,357.3 280.8,354.5 281.4,351.7 282.0,348.9 282.6,346.2 283.2,344.6 283.8,343.8 284.4,342.5 285.0,341.6 285.6,340.9 286.2,340.8 286.8,340.9 287.4,340.3 288.0,340.6 288.6,341.1 289.2,341.4 289.8,342.2 290.4,343.2 291.0,345.2 291.6,346.8 292.2,348.3 292.8,351.0 293.4,355.4 294.0,360.6 294.6,365.0 295.2,368.6 295.8,372.5 296.4,376.0 297.0,379.9 297.6,384.1 298.2,388.1 298.8,391.9 299.4,396.6 300.0,400.5 300.6,403.0 301.2,405.8 301.8,409.0 302.4,411.4 303.0,413.9 303.6,417.8 304.2,421.1 304.8,424.4 305.4,428.2 306.0,430.6 306.6,432.9 307.2,435.6 307.8,437.9 308.4,440.5 309.0,443.0 309.6,444.9 310.2,446.9 310.8,449.2 311.4,450.8 312.0,452.2 312.6,453.5 313.2,455.0 313.8,456.4 314.4,457.4 315.0,458.7 315.6,459.0 316.2,459.8 316.8,460.5 317.4,461.7 318.0,463.1 318.6,464.1 319.2,464.3 319.8,465.0 320.4,465.6 321.0,466.0 321.6,466.6 322.2,467.4 322.8,467.7 323.4,468.6 324.0,469.2 324.6,469.4 325.2,469.6 325.8,470.2 326.4,471.4 327.0,471.4 327.6,472.3 328.2,472.5 328.8,472.3 329.4,472.5 330.0,473.5 330.6,474.0 331.2,473.4 331.8,473.7 332.4,474.3 333.0,474.6 333.6,475.0 334.2,474.5 334.8,474.5 335.4,474.6 336.0,475.3 336.6,474.6 337.2,474.1 337.8,474.8 338.4,475.4 339.0,476.0 339.6,475.6 340.2,475.7 340.8,476.3 341.4,476.7 342.0,476.7 342.6,477.1 343.2,477.2 343.8,477.1 344.4,477.3 345.0,477.3 345.6,477.4 346.2,477.8 346.8,477.6 347.4,478.3 348.0,478.5 348.6,478.1 349.2,477.9 349.8,478.2 350.4,478.6 351.0,478.8 351.6,478.8 352.2,478.9 352.8,478.6 353.4,478.5 354.0,478.3 354.6,478.9 355.2,478.9 355.8,478.8 356.4,479.3 357.0,478.9 357.6,478.0 358.2,478.4 358.8,478.5 359.4,479.5 360.0,479.9 360.6,479.1 361.2,479.0 361.8,479.0 362.4,479.3 363.0,479.5 363.6,479.6 364.2,479.2 364.8,479.6 365.4,479.2 366.0,479.5 366.6,479.9 367.2,479.7 367.8,479.2 368.4,479.2 369.0,479.4 369.6,479.8 370.2,480.0 370.8,479.6 371.4,480.0 372.0,480.4 372.6,480.4 373.2,480.6 373.8,481.0 374.4,480.9 375.0,481.0 375.6,481.2 376.2,481.3 376.8,480.6 377.4,481.3 378.0,481.2 378.6,481.1 379.2,480.8 379.8,480.7 380.4,481.3 381.0,481.6 381.6,481.9 382.2,481.8 382.8,482.5 383.4,482.5 384.0,482.3 384.6,482.1 385.2,482.1 385.8,482.2 386.4,482.6 387.0,482.9 387.6,482.9 388.2,482.7 388.8,483.0 389.4,483.1 390.0,483.8 390.6,484.5 391.2,484.3 391.8,483.8 392.4,483.3 393.0,483.3 393.6,483.7 394.2,484.5 394.8,484.5 395.4,484.6 396.0,484.7 396.6,485.2 397.2,485.6 397.8,485.2 398.4,485.1 399.0,485.3 399.6,485.7 400.2,485.3 400.8,485.1 401.4,485.0 402.0,485.3 402.6,486.3 403.2,486.9 403.8,486.2 404.4,486.5 405.0,486.4 405.6,486.0 406.2,486.2 406.8,486.3 407.4,486.6 408.0,487.1 408.6,486.3 409.2,486.8 409.8,487.0 410.4,486.8 411.0,487.2 411.6,487.5 412.2,487.4 412.8,487.6 413.4,487.4 414.0,487.0 414.6,488.1 415.2,488.7 415.8,488.4 416.4,488.0 417.0,487.4 417.6,487.5 418.2,487.5 418.8,487.7 419.4,488.1 420.0,487.8 420.6,487.7 421.2,487.4 421.8,487.8 422.4,488.1 423.0,487.8 423.6,488.1 424.2,488.6 424.8,487.9 425.4,487.6 426.0,487.9 426.6,488.7 427.2,489.0 427.8,488.3 428.4,487.7 429.0,487.8 429.6,488.1 430.2,487.7 430.8,488.2 431.4,488.2 432.0,487.5 432.6,487.4 433.2,487.3 433.8,487.0 434.4,486.1 435.0,486.0 435.6,485.4 436.2,484.8 436.8,484.7 437.4,484.3 438.0,483.5 438.6,483.0 439.2,483.1 439.8,483.7 440.4,483.7 441.0,482.9 441.6,482.4 442.2,481.5 442.8,481.1 443.4,480.7 444.0,479.9 444.6,479.5 445.2,479.4 445.8,478.9 446.4,478.3 447.0,478.2 447.6,477.8 448.2,477.7 448.8,477.0 449.4,476.4 450.0,476.1 450.6,475.6 451.2,475.0 451.8,474.8 452.4,474.8 453.0,474.6 453.6,474.1 454.2,472.9 454.8,472.8 455.4,472.9 456.0,473.2 456.6,473.4 457.2,474.1 457.8,475.3 458.4,475.9 459.0,476.4 459.6,477.7 460.2,478.2 460.8,478.1 461.4,478.6 462.0,478.8 462.6,479.4 463.2,479.4 463.8,479.4 464.4,479.7 465.0,480.0 465.6,480.6 466.2,480.9 466.8,481.0 467.4,480.7 468.0,480.2 468.6,481.2 469.2,481.4 469.8,482.3 470.4,483.0 471.0,482.9 471.6,482.8 472.2,483.0 472.8,483.2 473.4,483.3 474.0,483.4 474.6,483.7 475.2,484.4 475.8,484.5 476.4,484.8 477.0,484.7 477.6,484.8 478.2,485.0 478.8,485.4 479.4,485.6 480.0,485.5 480.6,485.3 481.2,485.5 481.8,486.3 482.4,486.0 483.0,486.1 483.6,486.8 484.2,487.0 484.8,486.7 485.4,486.8 486.0,487.5 486.6,487.3 487.2,487.1 487.8,486.8 488.4,486.4 489.0,486.6 489.6,487.3 490.2,487.5 490.8,487.3 491.4,486.9 492.0,486.9 492.6,487.2 493.2,487.3 493.8,488.1 494.4,488.7 495.0,489.2 495.6,488.6 496.2,487.8 496.8,487.3 497.4,486.7 498.0,487.5 498.6,488.2 499.2,488.7 499.8,488.7 500.4,488.7 501.0,488.6 501.6,488.9 502.2,488.9 502.8,488.2 503.4,488.1 504.0,488.2 504.6,489.2 505.2,489.4 505.8,489.0 506.4,488.4 507.0,488.7 507.6,488.8 508.2,488.8 508.8,488.9 509.4,489.0 510.0,489.0 510.6,489.3 511.2,489.2 511.8,489.0 512.4,489.0 513.0,489.1 513.6,489.5 514.2,489.3 514.8,489.4 515.4,489.1 516.0,489.0 516.6,489.6 517.2,489.4 517.8,489.8 518.4,489.8 519.0,489.1 519.6,489.3 520.2,489.5 520.8,489.5 521.4,489.6 522.0,490.2 522.6,490.3 523.2,490.3 523.8,490.3 524.4,490.4 525.0,490.3 525.6,490.6 526.2,490.9 526.8,490.8 527.4,490.6 527.5,490.5" stroke="#1c60cc"/>
<path d="M46.2,545.5 46.8,545.6 47.4,545.4 48.0,545.4 48.6,546.2 49.2,546.8 49.8,546.2 50.4,546.2 51.0,546.0 51.6,545.4 52.2,546.0 52.8,546.4 53.4,547.0 54.0,546.7 54.6,546.5 55.2,546.8 55.8,547.1 56.4,547.0 57.0,547.1 57.6,547.0 58.2,547.5 58.8,548.3 59.4,548.9 60.0,548.7 60.6,548.6 61.2,549.0 61.8,549.3 62.4,549.6 63.0,549.5 63.6,549.2 64.2,549.4 64.8,549.6 65.4,549.8 66.0,549.8 66.6,549.4 67.2,549.1 67.8,549.5 68.4,549.6 69.0,550.4 69.6,550.5 70.2,550.4 70.8,551.2 71.4,551.6 72.0,551.7 72.6,552.4 73.2,552.4 73.8,551.8 74.4,552.3 75.0,552.4 75.6,552.5 76.2,552.6 76.8,552.2 77.4,552.1 78.0,552.1 78.6,552.3 79.2,552.5 79.8,552.2 80.4,552.4 81.0,553.1 81.6,553.2 82.2,553.1 82.8,552.5 83.4,552.7 84.0,553.0 84.6,553.3 85.2,553.3 85.8,553.7 86.4,553.6 87.0,553.5 87.6,553.6 88.2,553.7 88.8,553.5 89.4,553.9 90.0,553.8 90.6,553.6 91.2,553.5 91.8,553.7 92.4,553.9 93.0,553.8 93.6,553.6 94.2,553.6 94.8,553.5 95.4,553.6 96.0,553.0 96.6,552.5 97.2,553.3 97.8,553.1 98.4,552.6 99.0,552.7 99.6,552.9 100.2,553.6 100.8,553.1 101.4,552.4 102.0,552.8 102.6,553.0 103.2,553.3 103.8,552.3 104.4,551.8 105.0,552.4 105.6,552.5 106.2,552.2 106.8,551.8 107.4,552.6 108.0,552.9 108.6,552.1 109.2,552.5 109.8,552.6 110.4,553.1 111.0,552.7 111.6,552.3 112.2,552.5 112.8,552.3 113.4,551.8 114.0,551.9 114.6,551.4 115.2,551.2 115.8,552.0 116.4,551.5 117.0,551.1 117.6,551.1 118.2,550.4 118.8,550.3 119.4,550.5 120.0,550.6 120.6,550.9 121.2,551.1 121.8,550.7 122.4,550.8 123.0,550.7 123.6,550.2 124.2,550.2 124.8,550.2 125.4,550.6 126.0,550.5 126.6,550.1 127.2,549.6 127.8,549.8 128.4,549.8 129.0,550.1 129.6,549.8 130.2,549.6 130.8,550.1 131.4,550.0 132.0,549.6 132.6,549.9 133.2,549.5 133.8,549.3 134.4,549.3 135.0,549.0 135.6,549.0 136.2,549.2 136.8,549.8 137.4,549.7 138.0,549.2 138.6,549.4 139.2,549.0 139.8,548.9 140.4,548.9 141.0,548.9 141.6,549.2 142.2,548.3 142.8,547.7 143.4,548.0 144.0,547.6 144.6,546.9 145.2,546.3 145.8,547.2 146.4,547.4 147.0,547.3 147.6,547.3 148.2,547.2 148.8,546.7 149.4,546.5 150.0,545.9 150.6,545.9 151.2,546.2 151.8,545.8 152.4,545.1 153.0,545.3 153.6,545.0 154.2,544.6 154.8,544.5 155.4,543.9 156.0,543.0 156.6,543.0 157.2,543.3 157.8,542.3 158.4,542.1 159.0,542.1 159.6,541.6 160.2,540.7 160.8,540.5 161.4,540.5 162.0,540.3 162.6,539.5 163.2,539.1 163.8,539.5 164.4,539.3 165.0,538.6 165.6,537.9 166.2,537.7 166.8,537.3 167.4,536.8 168.0,535.7 168.6,535.3 169.2,534.6 169.8,533.7 170.4,533.4 171.0,532.8 171.6,532.1 172.2,531.5 172.8,530.4 173.4,530.1 174.0,529.7 174.6,529.2 175.2,528.5 175.8,527.1 176.4,526.3 177.0,526.3 177.6,526.1 178.2,526.0 178.8,524.9 179.4,523.8 180.0,523.4 180.6,522.4 181.2,521.9 181.8,522.5 182.4,521.7 183.0,521.0 183.6,520.7 184.2,520.5 184.8,519.8 185.4,519.2 186.0,518.1 186.6,517.6 187.2,518.2 187.8,518.0 188.4,517.3 189.0,516.6 189.6,516.1 190.2,515.6 190.8,515.7 191.4,515.2 192.0,514.6 192.6,514.3 193.2,514.1 193.8,513.9 194.4,513.5 195.0,512.9 195.6,513.4 196.2,513.8 196.8,513.0 197.4,512.8 198.0,513.2 198.6,513.2 199.2,512.8 199.8,512.1 200.4,512.4 201.0,512.0 201.6,512.1 202.2,512.6 202.8,512.8 203.4,513.6 204.0,514.6 204.6,514.3 205.2,514.1 205.8,513.8 206.4,514.0 207.0,514.3 207.6,514.7 208.2,515.0 208.8,515.5 209.4,516.0 210.0,516.2 210.6,516.4 211.2,517.0 211.8,518.1 212.4,518.7 213.0,519.5 213.6,519.9 214.2,520.0 214.8,520.5 215.4,520.8 216.0,522.3 216.6,522.7 217.2,522.5 217.8,522.6 218.4,523.3 219.0,523.3 219.6,524.0 220.2,525.1 220.8,525.4 221.4,525.8 222.0,526.4 222.6,526.5 223.2,527.0 223.8,527.2 224.4,527.5 225.0,528.1 225.6,528.4 226.2,529.2 226.8,529.3 227.4,529.8 228.0,529.5 228.6,529.8 229.2,529.5 229.8,529.6 230.4,530.4 231.0,530.6 231.6,530.4 232.2,530.9 232.8,530.6 233.4,530.8 234.0,531.1 234.6,531.0 235.2,530.6 235.8,531.5 236.4,531.4 237.0,530.9 237.6,530.5 238.2,530.2 238.8,530.3 239.4,530.8 240.0,530.4 240.6,529.9 241.2,530.0 241.8,530.4 242.4,529.7 243.0,529.3 243.6,529.6 244.2,529.1 244.8,528.4 245.4,527.6 246.0,526.7 246.6,526.4 247.2,526.2 247.8,526.0 248.4,525.8 249.0,525.4 249.6,524.8 250.2,524.1 250.8,522.9 251.4,522.1 252.0,521.9 252.6,521.5 253.2,521.0 253.8,520.5 254.4,519.5 255.0,518.8 255.6,518.4 256.2,517.6 256.8,516.5 257.4,515.8 258.0,514.5 258.6,513.2 259.2,512.6 259.8,512.0 260.4,510.4 261.0,509.5 261.6,508.6 262.2,507.2 262.8,505.5 263.4,504.7 264.0,503.2 264.6,501.6 265.2,500.5 265.8,499.6 266.4,498.3 267.0,497.2 267.6,496.2 268.2,494.3 268.8,492.8 269.4,491.9 270.0,490.5 270.6,488.7 271.2,486.6 271.8,485.4 272.4,484.0 273.0,482.6 273.6,480.6 274.2,479.4 274.8,478.0 275.4,476.3 276.0,475.5 276.6,475.0 277.2,473.5 277.8,472.3 278.4,471.8 279.0,470.9 279.6,469.7 280.2,468.3 280.8,467.9 281.4,467.7 282.0,466.7 282.6,466.2 283.2,466.6 283.8,466.5 284.4,465.5 285.0,464.8 285.6,465.3 286.2,465.8 286.8,466.4 287.4,467.0 288.0,467.0 288.6,467.2 289.2,467.8 289.8,468.1 290.4,468.9 291.0,470.2 291.6,472.4 292.2,473.3 292.8,473.9 293.4,475.1 294.0,476.8 294.6,478.3 295.2,480.4 295.8,482.7 296.4,485.0 297.0,486.6 297.6,488.0 298.2,489.5 298.8,491.4 299.4,493.6 300.0,495.6 300.6,497.6 301.2,499.1 301.8,501.3 302.4,503.0 303.0,504.3 303.6,505.4 304.2,507.3 304.8,509.9 305.4,511.8 306.0,513.1 306.6,514.5 307.2,515.7 307.8,516.9 308.4,518.4 309.0,520.1 309.6,521.3 310.2,522.2 310.8,523.4 311.4,524.9 312.0,525.9 312.6,526.8 313.2,528.4 313.8,529.1 314.4,529.8 315.0,531.1 315.6,531.7 316.2,532.0 316.8,532.5 317.4,532.7 318.0,533.1 318.6,533.5 319.2,534.7 319.8,534.8 320.4,535.6 321.0,535.8 321.6,536.1 322.2,536.8 322.8,537.5 323.4,538.2 324.0,538.8 324.6,538.9 325.2,539.0 325.8,539.0 326.4,539.6 327.0,539.7 327.6,539.8 328.2,540.1 328.8,540.5 329.4,540.9 330.0,541.2 330.6,541.1 331.2,541.3 331.8,541.8 332.4,541.4 333.0,542.0 333.6,542.6 334.2,541.8 334.8,542.4 335.4,543.1 336.0,543.1 336.6,543.9 337.2,543.2 337.8,544.2 338.4,544.9 339.0,544.7 339.6,544.4 340.2,544.5 340.8,544.5 341.4,544.9 342.0,544.6 342.6,545.0 343.2,545.4 343.8,545.0 344.4,545.2 345.0,545.4 345.6,545.4 346.2,546.1 346.8,546.0 347.4,545.5 348.0,545.8 348.6,545.8 349.2,546.0 349.8,546.2 350.4,546.3 351.0,546.7 351.6,546.6 352.2,547.0 352.8,547.0 353.4,547.1 354.0,546.8 354.6,546.7 355.2,546.7 355.8,547.4 356.4,548.0 357.0,548.4 357.6,548.2 358.2,547.8 358.8,547.6 359.4,547.8 360.0,548.0 360.6,548.5 361.2,548.4 361.8,547.8 362.4,548.0 363.0,548.7 363.6,548.6 364.2,548.5 364.8,548.9 365.4,548.6 366.0,548.6 366.6,548.5 367.2,548.3 367.8,549.0 368.4,548.8 369.0,548.9 369.6,549.1 370.2,549.6 370.8,549.5 371.4,549.3 372.0,548.9 372.6,549.1 373.2,548.9 373.8,549.3 374.4,549.4 375.0,549.4 375.6,549.7 376.2,549.3 376.8,548.6 377.4,547.4 378.0,546.0 378.6,545.3 379.2,544.9 379.8,544.8 380.4,546.1 381.0,547.2 381.6,547.9 382.2,547.9 382.8,547.4 383.4,547.7 384.0,548.7 384.6,548.4 385.2,548.0 385.8,548.5 386.4,548.4 387.0,547.9 387.6,547.9 388.2,548.6 388.8,549.6 389.4,550.0 390.0,550.2 390.6,550.7 391.2,550.9 391.8,550.4 392.4,550.9 393.0,551.1 393.6,551.2 394.2,551.6 394.8,552.0 395.4,552.0 396.0,551.8 396.6,552.4 397.2,553.2 397.8,552.4 398.4,552.2 399.0,552.9 399.6,553.4 400.2,553.3 400.8,553.1 401.4,553.5 402.0,553.2 402.6,553.0 403.2,553.3 403.8,553.8 404.4,554.2 405.0,554.3 405.6,554.3 406.2,554.5 406.8,554.5 407.4,554.5 408.0,553.9 408.6,553.9 409.2,554.5 409.8,554.2 410.4,554.5 411.0,554.7 411.6,554.6 412.2,554.9 412.8,555.1 413.4,554.4 414.0,555.4 414.6,556.0 415.2,555.4 415.8,555.2 416.4,555.7 417.0,555.8 417.6,555.1 418.2,555.2 418.8,555.3 419.4,555.6 420.0,555.6 420.6,555.7 421.2,555.5 421.8,555.5 422.4,555.4 423.0,555.5 423.6,555.8 424.2,555.9 424.8,556.0 425.4,556.8 426.0,556.5 426.6,556.2 427.2,556.9 427.8,556.7 428.4,557.0 429.0,557.0 429.6,557.1 430.2,557.0 430.8,556.8 431.4,557.2 432.0,557.4 432.6,556.4 433.2,556.7 433.8,556.9 434.4,556.3 435.0,556.4 435.6,557.3 436.2,557.0 436.8,557.4 437.4,557.0 438.0,556.7 438.6,556.7 439.2,556.8 439.8,556.9 440.4,556.6 441.0,556.3 441.6,556.3 442.2,556.6 442.8,556.2 443.4,555.4 444.0,555.4 444.6,555.5 445.2,555.2 445.8,555.0 446.4,554.8 447.0,555.0 447.6,555.2 448.2,555.3 448.8,555.2 449.4,555.4 450.0,555.1 450.6,555.6 451.2,555.0 451.8,554.3 452.4,553.5 453.0,552.8 453.6,553.4 454.2,554.0 454.8,554.2 455.4,553.6 456.0,554.1 456.6,553.9 457.2,553.6 457.8,553.0 458.4,553.6 459.0,554.0 459.6,554.4 460.2,554.3 460.8,554.2 461.4,554.9 462.0,555.2 462.6,555.3 463.2,555.6 463.8,555.7 464.4,555.3 465.0,554.8 465.6,555.1 466.2,556.2 466.8,556.4 467.4,556.2 468.0,556.2 468.6,556.4 469.2,556.6 469.8,556.6 470.4,556.9 471.0,557.8 471.6,557.5 472.2,557.0 472.8,556.9 473.4,557.3 474.0,558.0 474.6,558.2 475.2,558.0 475.8,558.1 476.4,558.0 477.0,558.1 477.6,558.9 478.2,559.2 478.8,559.6 479.4,558.8 480.0,558.9 480.6,559.3 481.2,559.0 481.8,558.6 482.4,558.9 483.0,559.4 483.6,559.7 484.2,559.8 484.8,560.2 485.4,560.4 486.0,560.2 486.6,560.0 487.2,560.1 487.8,560.5 488.4,560.7 489.0,560.6 489.6,560.6 490.2,560.3 490.8,559.9 491.4,560.2 492.0,561.0 492.6,561.3 493.2,561.6 493.8,561.3 494.4,561.5 495.0,561.8 495.6,561.7 496.2,561.2 496.8,561.2 497.4,561.3 498.0,561.1 498.6,561.6 499.2,561.9 499.8,561.7 500.4,562.2 501.0,561.7 501.6,561.5 502.2,561.5 502.8,561.4 503.4,561.8 504.0,562.0 504.6,562.4 505.2,562.2 505.8,562.0 506.4,561.6 507.0,561.2 507.6,561.5 508.2,561.6 508.8,562.0 509.4,562.1 510.0,562.5 510.6,562.4 511.2,562.2 511.8,562.0 512.4,562.0 513.0,562.2 513.6,562.1 514.2,561.7 514.8,562.2 515.4,562.8 516.0,562.1 516.6,561.6 517.2,561.3 517.8,561.3 518.4,562.1 519.0,562.0 519.6,562.2 520.2,562.9 520.8,563.0 521.4,562.1 522.0,562.4 522.6,562.5 523.2,562.4 523.8,562.4 524.4,562.5 525.0,563.0 525.6,562.9 526.2,562.9 526.8,563.2 527.4,563.2 527.5,563.0" stroke="#de373c"/>
<path d="M46.2,646.6 46.8,647.2 47.4,646.9 48.0,646.6 48.6,646.4 49.2,646.6 49.8,646.6 50.4,647.1 51.0,647.1 51.6,646.7 52.2,647.3 52.8,647.9 53.4,647.8 54.0,647.7 54.6,648.2 55.2,647.8 55.8,647.5 56.4,647.7 57.0,648.3 57.6,648.9 58.2,649.1 58.8,648.7 59.4,648.3 60.0,648.3 60.6,648.5 61.2,648.6 61.8,648.5 62.4,649.1 63.0,649.5 63.6,649.4 64.2,649.5 64.8,649.1 65.4,648.9 66.0,649.5 66.6,650.3 67.2,650.4 67.8,650.1 68.4,650.5 69.0,650.5 69.6,651.0 70.2,650.8 70.8,650.6 71.4,650.9 72.0,650.5 72.6,650.3 73.2,650.4 73.8,651.0 74.4,651.2 75.0,651.1 75.6,651.3 76.2,651.7 76.8,651.2 77.4,651.1 78.0,651.8 78.6,652.0 79.2,651.4 79.8,650.6 80.4,650.9 81.0,651.5 81.6,651.6 82.2,651.7 82.8,651.1 83.4,651.3 84.0,651.3 84.6,651.7 85.2,651.6 85.8,651.6 86.4,651.0 87.0,650.6 87.6,650.7 88.2,650.8 88.8,651.0 89.4,651.7 90.0,651.9 90.6,651.3 91.2,650.8 91.8,650.8 92.4,650.9 93.0,651.4 93.6,651.2 94.2,650.9 94.8,650.4 95.4,649.7 96.0,649.9 96.6,650.0 97.2,650.4 97.8,650.3 98.4,649.9 99.0,650.1 99.6,650.5 100.2,649.7 100.8,649.4 101.4,649.5 102.0,649.4 102.6,649.4 103.2,649.9 103.8,649.9 104.4,648.9 105.0,649.0 105.6,649.1 106.2,648.9 106.8,648.8 107.4,648.8 108.0,648.9 108.6,648.5 109.2,648.4 109.8,648.3 110.4,648.3 111.0,648.2 111.6,648.4 112.2,648.0 112.8,647.8 113.4,647.6 114.0,647.1 114.6,646.9 115.2,646.9 115.8,647.1 116.4,646.7 117.0,646.5 117.6,646.9 118.2,646.7 118.8,646.2 119.4,646.9 120.0,646.6 120.6,646.4 121.2,646.5 121.8,646.1 122.4,646.0 123.0,646.4 123.6,645.6 124.2,645.5 124.8,645.6 125.4,645.1 126.0,645.1 126.6,645.5 127.2,645.8 127.8,644.8 128.4,644.7 129.0,644.9 129.6,644.5 130.2,644.0 130.8,644.2 131.4,644.2 132.0,644.2 132.6,644.3 133.2,644.1 133.8,643.7 134.4,643.3 135.0,642.7 135.6,642.7 136.2,642.7 136.8,642.4 137.4,642.2 138.0,642.0 138.6,642.6 139.2,642.6 139.8,641.7 140.4,641.5 141.0,641.3 141.6,641.5 142.2,641.2 142.8,640.7 143.4,640.4 144.0,640.2 144.6,639.9 145.2,640.0 145.8,639.7 146.4,639.8 147.0,639.8 147.6,639.9 148.2,639.7 148.8,639.6 149.4,639.1 150.0,639.2 150.6,639.1 151.2,639.0 151.8,639.0 152.4,638.9 153.0,638.0 153.6,638.1 154.2,637.8 154.8,637.9 155.4,636.9 156.0,636.4 156.6,636.3 157.2,636.7 157.8,635.9 158.4,635.7 159.0,635.1 159.6,634.4 160.2,634.6 160.8,634.7 161.4,634.2 162.0,634.0 162.6,633.4 163.2,632.9 163.8,632.5 164.4,632.6 165.0,632.7 165.6,631.9 166.2,631.2 166.8,630.4 167.4,630.1 168.0,630.2 168.6,629.1 169.2,628.5 169.8,628.3 170.4,628.0 171.0,627.7 171.6,626.1 172.2,626.0 172.8,625.6 173.4,624.4 174.0,623.9 174.6,623.9 175.2,623.7 175.8,622.4 176.4,621.7 177.0,622.2 177.6,622.1 178.2,620.8 178.8,620.0 179.4,620.4 180.0,620.0 180.6,619.6 181.2,618.7 181.8,617.8 182.4,617.3 183.0,617.4 183.6,616.6 184.2,614.9 184.8,614.8 185.4,615.2 186.0,614.3 186.6,613.6 187.2,613.6 187.8,613.5 188.4,613.1 189.0,612.7 189.6,612.5 190.2,612.2 190.8,612.1 191.4,611.5 192.0,611.2 192.6,611.2 193.2,611.3 193.8,610.9 194.4,610.4 195.0,610.3 195.6,610.2 196.2,610.2 196.8,610.0 197.4,610.1 198.0,609.8 198.6,609.0 199.2,608.8 199.8,609.1 200.4,609.1 201.0,608.7 201.6,608.1 202.2,608.2 202.8,609.1 203.4,609.6 204.0,609.5 204.6,609.2 205.2,609.7 205.8,609.8 206.4,610.2 207.0,610.4 207.6,610.3 208.2,610.3 208.8,610.3 209.4,610.7 210.0,611.1 210.6,612.0 211.2,612.5 211.8,613.0 212.4,613.1 213.0,613.1 213.6,613.5 214.2,613.8 214.8,614.4 215.4,614.6 216.0,614.5 216.6,615.0 217.2,615.4 217.8,615.7 218.4,616.5 219.0,617.0 219.6,616.7 220.2,616.5 220.8,616.4 221.4,617.2 222.0,617.4 222.6,617.3 223.2,618.2 223.8,618.7 224.4,618.6 225.0,618.7 225.6,618.9 226.2,619.4 226.8,619.2 227.4,619.8 228.0,620.7 228.6,620.6 229.2,620.6 229.8,620.4 230.4,620.3 231.0,620.8 231.6,621.1 232.2,620.9 232.8,621.5 233.4,622.1 234.0,621.9 234.6,621.1 235.2,621.0 235.8,621.1 236.4,621.9 237.0,621.9 237.6,621.5 238.2,620.7 238.8,620.4 239.4,620.6 240.0,620.5 240.6,620.0 241.2,620.1 241.8,620.2 242.4,619.7 243.0,618.8 243.6,618.3 244.2,618.6 244.8,618.6 245.4,618.2 246.0,617.7 246.6,617.3 247.2,617.3 247.8,616.7 248.4,616.1 249.0,615.2 249.6,614.8 250.2,614.5 250.8,613.6 251.4,612.9 252.0,612.8 252.6,612.7 253.2,612.0 253.8,611.5 254.4,610.3 255.0,609.0 255.6,607.7 256.2,606.9 256.8,606.3 257.4,604.9 258.0,603.6 258.6,602.2 259.2,600.7 259.8,599.3 260.4,598.3 261.0,597.3 261.6,596.0 262.2,594.8 262.8,593.4 263.4,591.9 264.0,590.7 264.6,589.7 265.2,588.9 265.8,587.2 266.4,586.7 267.0,586.5 267.6,584.7 268.2,583.0 268.8,582.3 269.4,581.4 270.0,579.8 270.6,578.5 271.2,577.0 271.8,575.8 272.4,575.3 273.0,573.2 273.6,571.2 274.2,569.9 274.8,568.8 275.4,567.7 276.0,566.5 276.6,565.0 277.2,563.4 277.8,562.7 278.4,561.7 279.0,560.5 279.6,559.3 280.2,558.7 280.8,558.1 281.4,557.4 282.0,556.5 282.6,556.5 283.2,556.3 283.8,555.8 284.4,555.6 285.0,555.7 285.6,555.9 286.2,555.3 286.8,555.8 287.4,556.1 288.0,556.8 288.6,557.7 289.2,557.9 289.8,558.5 290.4,559.1 291.0,560.5 291.6,561.2 292.2,561.7 292.8,561.7 293.4,562.8 294.0,564.7 294.6,566.1 295.2,567.7 295.8,569.5 296.4,571.1 297.0,573.2 297.6,574.8 298.2,576.3 298.8,577.7 299.4,579.4 300.0,580.9 300.6,582.9 301.2,584.7 301.8,586.2 302.4,587.6 303.0,588.8 303.6,589.6 304.2,592.0 304.8,593.7 305.4,595.3 306.0,596.8 306.6,598.1 307.2,600.0 307.8,602.1 308.4,603.7 309.0,604.4 309.6,605.7 310.2,607.6 310.8,608.6 311.4,610.4 312.0,611.2 312.6,612.0 313.2,613.8 313.8,615.1 314.4,615.5 315.0,617.1 315.6,618.0 316.2,619.2 316.8,619.5 317.4,619.9 318.0,621.3 318.6,622.6 319.2,623.7 319.8,624.3 320.4,624.4 321.0,624.5 321.6,624.9 322.2,625.4 322.8,625.7 323.4,626.1 324.0,626.1 324.6,627.2 325.2,628.2 325.8,629.3 326.4,629.1 327.0,629.0 327.6,629.3 328.2,629.2 328.8,629.4 329.4,629.8 330.0,631.0 330.6,631.2 331.2,630.9 331.8,631.5 332.4,632.3 333.0,632.5 333.6,632.5 334.2,632.3 334.8,632.6 335.4,633.2 336.0,633.6 336.6,633.2 337.2,633.4 337.8,634.1 338.4,634.1 339.0,634.6 339.6,634.9 340.2,635.3 340.8,635.9 341.4,635.9 342.0,636.0 342.6,635.7 343.2,636.1 343.8,637.0 344.4,637.7 345.0,638.0 345.6,638.3 346.2,637.8 346.8,637.8 347.4,638.1 348.0,638.0 348.6,637.9 349.2,637.9 349.8,638.4 350.4,638.2 351.0,638.4 351.6,638.3 352.2,638.9 352.8,638.8 353.4,639.0 354.0,638.7 354.6,639.1 355.2,639.8 355.8,639.5 356.4,639.7 357.0,639.5 357.6,639.3 358.2,640.2 358.8,640.5 359.4,640.3 360.0,640.7 360.6,640.5 361.2,640.5 361.8,640.9 362.4,641.3 363.0,641.9 363.6,641.3 364.2,641.8 364.8,641.9 365.4,641.0 366.0,641.2 366.6,642.0 367.2,642.1 367.8,642.5 368.4,642.8 369.0,642.4 369.6,641.8 370.2,641.5 370.8,642.3 371.4,642.4 372.0,642.7 372.6,642.6 373.2,642.4 373.8,643.2 374.4,643.2 375.0,642.7 375.6,642.0 376.2,642.0 376.8,642.0 377.4,641.9 378.0,641.8 378.6,642.3 379.2,642.5 379.8,642.5 380.4,642.6 381.0,643.3 381.6,643.0 382.2,642.3 382.8,643.0 383.4,643.8 384.0,644.4 384.6,644.2 385.2,644.2 385.8,644.4 386.4,644.8 387.0,644.7 387.6,644.7 388.2,644.9 388.8,645.4 389.4,645.2 390.0,645.0 390.6,645.7 391.2,645.8 391.8,646.1 392.4,646.5 393.0,646.9 393.6,646.9 394.2,646.4 394.8,646.3 395.4,646.4 396.0,647.3 396.6,647.4 397.2,647.5 397.8,646.9 398.4,646.6 399.0,647.6 399.6,647.6 400.2,647.5 400.8,647.6 401.4,647.9 402.0,647.8 402.6,647.4 403.2,648.0 403.8,647.8 404.4,648.0 405.0,648.8 405.6,648.7 406.2,648.1 406.8,647.7 407.4,648.4 408.0,648.8 408.6,648.6 409.2,648.2 409.8,648.3 410.4,648.4 411.0,649.0 411.6,649.5 412.2,649.5 412.8,649.1 413.4,649.4 414.0,649.5 414.6,649.3 415.2,649.7 415.8,650.4 416.4,650.1 417.0,650.0 417.6,649.8 418.2,649.6 418.8,649.3 419.4,649.9 420.0,650.7 420.6,651.0 421.2,650.8 421.8,650.4 422.4,650.0 423.0,649.8 423.6,649.9 424.2,650.1 424.8,649.9 425.4,650.1 426.0,649.5 426.6,649.1 427.2,649.2 427.8,649.1 428.4,649.4 429.0,650.2 429.6,650.1 430.2,650.2 430.8,650.6 431.4,650.5 432.0,650.1 432.6,650.4 433.2,650.2 433.8,650.0 434.4,649.9 435.0,649.3 435.6,649.4 436.2,649.7 436.8,649.9 437.4,649.6 438.0,649.7 438.6,650.1 439.2,650.3 439.8,650.1 440.4,650.0 441.0,649.4 441.6,649.2 442.2,649.3 442.8,649.0 443.4,649.0 444.0,649.5 444.6,648.8 445.2,648.4 445.8,648.9 446.4,649.2 447.0,648.8 447.6,648.7 448.2,648.1 448.8,647.8 449.4,647.7 450.0,647.9 450.6,648.2 451.2,647.6 451.8,647.8 452.4,647.1 453.0,647.1 453.6,647.4 454.2,647.4 454.8,646.9 455.4,646.3 456.0,646.6 456.6,646.7 457.2,647.5 457.8,647.0 458.4,646.6 459.0,646.4 459.6,646.4 460.2,646.6 460.8,647.2 461.4,647.3 462.0,647.4 462.6,647.2 463.2,647.4 463.8,648.0 464.4,647.4 465.0,647.2 465.6,647.8 466.2,647.7 466.8,648.1 467.4,648.6 468.0,648.5 468.6,648.9 469.2,648.9 469.8,649.7 470.4,649.8 471.0,649.3 471.6,649.3 472.2,649.4 472.8,649.9 473.4,650.2 474.0,649.8 474.6,650.2 475.2,649.9 475.8,649.8 476.4,650.1 477.0,651.3 477.6,651.2 478.2,651.0 478.8,651.0 479.4,651.3 480.0,650.7 480.6,651.5 481.2,652.3 481.8,651.8 482.4,651.9 483.0,652.1 483.6,651.8 484.2,652.2 484.8,652.6 485.4,652.6 486.0,652.6 486.6,652.5 487.2,652.7 487.8,653.0 488.4,653.5 489.0,653.4 489.6,652.8 490.2,652.3 490.8,653.3 491.4,653.6 492.0,652.9 492.6,652.5 493.2,653.0 493.8,653.7 494.4,653.4 495.0,653.5 495.6,654.0 496.2,654.4 496.8,654.1 497.4,653.9 498.0,654.1 498.6,654.8 499.2,654.8 499.8,654.2 500.4,653.7 501.0,654.0 501.6,654.4 502.2,654.4 502.8,654.8 503.4,654.8 504.0,654.8 504.6,655.0 505.2,654.8 505.8,654.4 506.4,654.8 507.0,655.5 507.6,654.6 508.2,654.7 508.8,655.2 509.4,654.9 510.0,654.5 510.6,654.5 511.2,655.2 511.8,655.7 512.4,655.8 513.0,655.5 513.6,655.5 514.2,655.0 514.8,655.2 515.4,655.2 516.0,655.5 516.6,655.9 517.2,655.9 517.8,655.5 518.4,655.9 519.0,655.5 519.6,655.2 520.2,655.4 520.8,655.2 521.4,655.7 522.0,656.0 522.6,656.0 523.2,656.1 523.8,656.0 524.4,655.9 525.0,655.6 525.6,656.0 526.2,655.9 526.8,656.1 527.4,656.3 527.5,656.5" stroke="#424242"/>
</g>
<g stroke="#000" stroke-width="1.6" fill="none">
<line x1="194.5" y1="90.8" x2="194.5" y2="627.5" stroke-dasharray="8.3 8.22"/>
<line x1="453.9" y1="132.2" x2="453.9" y2="663.2" stroke-dasharray="8.3 8.22"/>
</g>
<g stroke="#000" fill="none">
<rect x="46.1" y="11.7" width="482" height="670.8" stroke-width="1.7"/>
<line x1="46.10" y1="682.5" x2="46.10" y2="688.7" stroke-width="1.7"/><line x1="114.96" y1="682.5" x2="114.96" y2="688.7" stroke-width="1.7"/><line x1="183.81" y1="682.5" x2="183.81" y2="688.7" stroke-width="1.7"/><line x1="252.67" y1="682.5" x2="252.67" y2="688.7" stroke-width="1.7"/><line x1="321.53" y1="682.5" x2="321.53" y2="688.7" stroke-width="1.7"/><line x1="390.39" y1="682.5" x2="390.39" y2="688.7" stroke-width="1.7"/><line x1="459.24" y1="682.5" x2="459.24" y2="688.7" stroke-width="1.7"/><line x1="528.10" y1="682.5" x2="528.10" y2="688.7" stroke-width="1.7"/>
</g>
<g class="b" font-size="22.5" text-anchor="middle">
<text x="46.10" y="711.6">5</text><text x="114.96" y="711.6">10</text><text x="183.81" y="711.6">15</text><text x="252.67" y="711.6">20</text><text x="321.53" y="711.6">25</text><text x="390.39" y="711.6">30</text><text x="459.24" y="711.6">35</text><text x="528.10" y="711.6">40</text>
</g>
<text class="b" font-size="24.5" x="287" y="748.6" text-anchor="middle">2θ (Degree)</text>
<text class="b" font-size="24.2" transform="translate(25,346.7) rotate(-90)" text-anchor="middle">Intensity (a.u)</text>
<g class="b" font-size="21.2">
<text x="51" y="197.6">NC-BTW-3</text>
<text x="71" y="353.1">BTW-3</text>
<text x="85" y="474.1">PCF</text>
<text x="80.5" y="539.7">PTC-8</text>
<text x="92" y="629.5">RBS</text>
</g>
<g font-size="18">
<text x="269.5" y="31.7">22.48°</text>
<text x="179.5" y="81.6" font-size="17.5">16</text>
<text x="437.5" y="123.8">34.6°</text>
<text x="263.8" y="180.7" font-size="16.5">22.54°</text>
<text x="260.5" y="335.5">22.58°</text>
<text x="266.8" y="458.5">22.3°</text>
<text x="262.2" y="549.1">22.42°</text>
<text x="328.5" y="196">CI = 71.05%</text>
<text x="328.5" y="347.3">CI = 71.69%</text>
<text x="328.5" y="458.5">CI = 63.69%</text>
<text x="328.5" y="529.5">CI = 55.90%</text>
<text x="328.5" y="619.1">CI = 53.28%</text>
</g>
</svg>
</body></html>
